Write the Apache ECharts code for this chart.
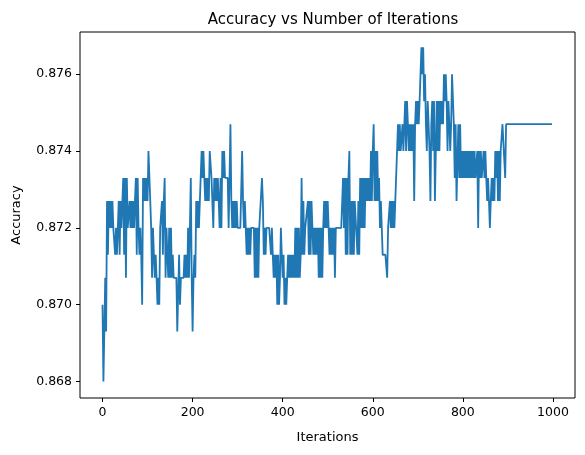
<!DOCTYPE html>
<html>
<head>
<meta charset="utf-8">
<script src="https://cdn.jsdelivr.net/npm/echarts@6/dist/echarts.min.js"></script>
<style>
html,body{margin:0;padding:0;background:#fff;}
#chart{width:585px;height:455px;}
</style>
</head>
<body>
<div id="chart"></div>
<script>
// Iteration step between recorded samples (read every 2 iterations)
const iterStep = 2;
// Accuracy, one value per 2 iterations (0 .. 998), 20 per row
const accuracy = [
  0.8700,0.8680,0.8693,0.8707,0.8693,0.8727,0.8713,0.8727,0.8720,0.8727,0.8720,0.8727,0.8720,0.8720,0.8713,0.8720,0.8713,0.8720,0.8727,0.8713,
  0.8727,0.8720,0.8720,0.8733,0.8713,0.8733,0.8707,0.8733,0.8720,0.8720,0.8727,0.8720,0.8727,0.8720,0.8727,0.8720,0.8727,0.8733,0.8713,0.8733,
  0.8720,0.8713,0.8720,0.8713,0.8700,0.8733,0.8727,0.8733,0.8727,0.8733,0.8727,0.8740,0.8740,0.8727,0.8720,0.8707,0.8720,0.8713,0.8707,0.8713,
  0.8707,0.8700,0.8707,0.8700,0.8720,0.8720,0.8727,0.8713,0.8727,0.8733,0.8707,0.8720,0.8713,0.8707,0.8720,0.8707,0.8720,0.8707,0.8713,0.8707,
  0.8707,0.8707,0.8707,0.8693,0.8693,0.8713,0.8700,0.8707,0.8707,0.8707,0.8707,0.8713,0.8707,0.8713,0.8707,0.8720,0.8707,0.8720,0.8733,0.8707,
  0.8693,0.8707,0.8713,0.8707,0.8727,0.8720,0.8727,0.8720,0.8720,0.8720,0.8740,0.8733,0.8740,0.8733,0.8727,0.8733,0.8727,0.8733,0.8727,0.8740,
  0.8740,0.8733,0.8733,0.8720,0.8733,0.8727,0.8733,0.8727,0.8733,0.8727,0.8720,0.8733,0.8720,0.8740,0.8733,0.8740,0.8733,0.8733,0.8733,0.8733,
  0.8720,0.8733,0.8747,0.8727,0.8720,0.8727,0.8720,0.8727,0.8720,0.8727,0.8720,0.8720,0.8720,0.8720,0.8720,0.8740,0.8727,0.8720,0.8727,0.8720,
  0.8713,0.8720,0.8713,0.8720,0.8713,0.8720,0.8720,0.8720,0.8720,0.8707,0.8720,0.8707,0.8720,0.8707,0.8720,0.8720,0.8720,0.8733,0.8727,0.8713,
  0.8720,0.8713,0.8720,0.8720,0.8720,0.8720,0.8720,0.8713,0.8720,0.8713,0.8707,0.8713,0.8707,0.8713,0.8700,0.8713,0.8700,0.8707,0.8720,0.8713,
  0.8707,0.8713,0.8700,0.8707,0.8700,0.8707,0.8713,0.8707,0.8713,0.8707,0.8713,0.8707,0.8713,0.8707,0.8720,0.8707,0.8720,0.8707,0.8720,0.8707,
  0.8713,0.8733,0.8713,0.8727,0.8713,0.8720,0.8720,0.8720,0.8727,0.8713,0.8727,0.8713,0.8727,0.8720,0.8713,0.8720,0.8713,0.8720,0.8713,0.8720,
  0.8707,0.8720,0.8707,0.8720,0.8707,0.8720,0.8727,0.8720,0.8727,0.8720,0.8727,0.8720,0.8713,0.8720,0.8713,0.8720,0.8713,0.8720,0.8707,0.8720,
  0.8720,0.8720,0.8720,0.8720,0.8720,0.8720,0.8720,0.8733,0.8720,0.8733,0.8713,0.8733,0.8713,0.8733,0.8740,0.8713,0.8727,0.8713,0.8727,0.8713,
  0.8727,0.8727,0.8727,0.8713,0.8727,0.8713,0.8733,0.8720,0.8733,0.8720,0.8733,0.8720,0.8733,0.8727,0.8733,0.8727,0.8733,0.8727,0.8740,0.8727,
  0.8740,0.8747,0.8727,0.8740,0.8727,0.8740,0.8727,0.8733,0.8720,0.8727,0.8720,0.8713,0.8713,0.8713,0.8713,0.8713,0.8707,0.8720,0.8720,0.8727,
  0.8720,0.8727,0.8720,0.8727,0.8720,0.8727,0.8727,0.8727,0.8747,0.8740,0.8747,0.8740,0.8740,0.8747,0.8740,0.8740,0.8753,0.8740,0.8753,0.8747,
  0.8740,0.8747,0.8740,0.8747,0.8740,0.8747,0.8727,0.8747,0.8753,0.8747,0.8753,0.8747,0.8753,0.8760,0.8767,0.8760,0.8767,0.8753,0.8760,0.8747,
  0.8740,0.8753,0.8747,0.8740,0.8727,0.8747,0.8753,0.8740,0.8753,0.8727,0.8740,0.8753,0.8740,0.8753,0.8740,0.8753,0.8747,0.8753,0.8747,0.8760,
  0.8753,0.8760,0.8753,0.8740,0.8753,0.8747,0.8740,0.8747,0.8760,0.8760,0.8747,0.8733,0.8747,0.8727,0.8727,0.8747,0.8733,0.8747,0.8733,0.8740,
  0.8733,0.8740,0.8733,0.8740,0.8733,0.8740,0.8733,0.8740,0.8733,0.8740,0.8733,0.8740,0.8733,0.8740,0.8733,0.8733,0.8740,0.8720,0.8740,0.8733,
  0.8740,0.8733,0.8733,0.8740,0.8733,0.8740,0.8733,0.8727,0.8733,0.8727,0.8720,0.8727,0.8733,0.8727,0.8733,0.8727,0.8740,0.8733,0.8740,0.8727,
  0.8740,0.8727,0.8740,0.8740,0.8747,0.8747,0.8747,0.8733,0.8747,0.8747,0.8747,0.8747,0.8747,0.8747,0.8747,0.8747,0.8747,0.8747,0.8747,0.8747,
  0.8747,0.8747,0.8747,0.8747,0.8747,0.8747,0.8747,0.8747,0.8747,0.8747,0.8747,0.8747,0.8747,0.8747,0.8747,0.8747,0.8747,0.8747,0.8747,0.8747,
  0.8747,0.8747,0.8747,0.8747,0.8747,0.8747,0.8747,0.8747,0.8747,0.8747,0.8747,0.8747,0.8747,0.8747,0.8747,0.8747,0.8747,0.8747,0.8747,0.8747
];
const iterations = accuracy.map((_, i) => i * iterStep);
const xTicks = [0, 200, 400, 600, 800, 1000];
const yTicks = [0.868, 0.870, 0.872, 0.874, 0.876];

const titleText = 'Accuracy vs Number of Iterations';
const xName = 'Iterations';
const yName = 'Accuracy';

const seriesData = iterations.map((it, i) => [it, accuracy[i]]);

const chart = echarts.init(document.getElementById('chart'), null, {renderer: 'canvas'});
const font = 'DejaVu Sans';
chart.setOption({
  animation: false,
  backgroundColor: '#ffffff',
  title: {
    text: titleText,
    left: 328,
    textAlign: 'center',
    top: 8,
    textStyle: {fontFamily: font, fontSize: 15, fontWeight: 'normal', color: '#000'}
  },
  grid: {
    left: 80, right: 10, top: 32, bottom: 57,
    show: true, borderColor: '#000', borderWidth: 1, backgroundColor: 'transparent'
  },
  xAxis: {
    type: 'value',
    min: -50, max: 1049,
    name: xName,
    nameLocation: 'middle',
    nameGap: 33,
    nameTextStyle: {fontFamily: font, fontSize: 13, color: '#000'},
    axisLine: {show: false, onZero: false},
    splitLine: {show: false},
    axisTick: {show: true, inside: false, length: 4, customValues: xTicks, lineStyle: {color: '#000'}},
    axisLabel: {customValues: xTicks, margin: 8, fontFamily: font, fontSize: 12.5, color: '#000',
      formatter: v => String(Math.round(v))}
  },
  yAxis: {
    type: 'value',
    min: 0.86757, max: 0.87710,
    name: yName,
    nameLocation: 'middle',
    nameGap: 57,
    nameRotate: 90,
    nameTextStyle: {fontFamily: font, fontSize: 13, color: '#000'},
    axisLine: {show: false, onZero: false},
    splitLine: {show: false},
    axisTick: {show: true, inside: false, length: 4, customValues: yTicks, lineStyle: {color: '#000'}},
    axisLabel: {customValues: yTicks, margin: 8, fontFamily: font, fontSize: 12.5, color: '#000',
      formatter: v => v.toFixed(3)}
  },
  series: [{
    type: 'line',
    data: seriesData,
    showSymbol: false,
    symbol: 'none',
    lineStyle: {color: '#1f77b4', width: 1.8},
    itemStyle: {color: '#1f77b4'}
  }]
});
</script>
</body>
</html>
